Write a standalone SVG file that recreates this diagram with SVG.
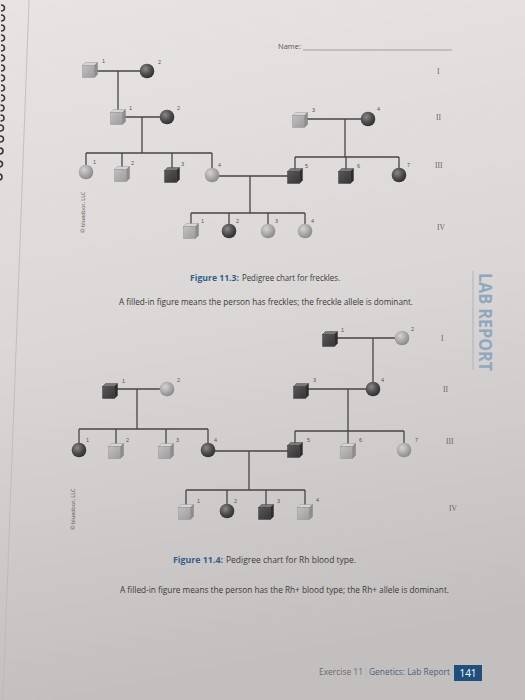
<svg xmlns="http://www.w3.org/2000/svg" xmlns:xlink="http://www.w3.org/1999/xlink" width="525" height="700" viewBox="0 0 525 700">
<defs>
<linearGradient id="page" x1="0" y1="0" x2="0.15" y2="1">
<stop offset="0" stop-color="#e7e4e3"/>
<stop offset="0.5" stop-color="#dbd7d6"/>
<stop offset="1" stop-color="#c4bfbf"/>
</linearGradient>
<radialGradient id="cL" cx="0.38" cy="0.35" r="0.7">
<stop offset="0" stop-color="#d6d4d3"/>
<stop offset="0.6" stop-color="#a6a4a4"/>
<stop offset="1" stop-color="#878585"/>
</radialGradient>
<radialGradient id="cD" cx="0.38" cy="0.35" r="0.7">
<stop offset="0" stop-color="#8a8888"/>
<stop offset="0.6" stop-color="#4a4848"/>
<stop offset="1" stop-color="#2f2e2e"/>
</radialGradient>
<linearGradient id="fL" x1="0" y1="0" x2="1" y2="1">
<stop offset="0" stop-color="#c2c0c0"/>
<stop offset="1" stop-color="#9c9a9a"/>
</linearGradient>
<linearGradient id="fD" x1="0" y1="0" x2="1" y2="1">
<stop offset="0" stop-color="#5a5858"/>
<stop offset="1" stop-color="#363535"/>
</linearGradient>
<g id="sqL">
<polygon points="-7.5,-4.5 -4.5,-7.5 7.5,-7.5 4.5,-4.5" fill="#d6d4d4" stroke="#8a8888" stroke-width="0.4"/>
<polygon points="4.5,-4.5 7.5,-7.5 7.5,4.5 4.5,7.5" fill="#8e8c8c" stroke="#7a7878" stroke-width="0.4"/>
<rect x="-7.5" y="-4.5" width="12" height="12" fill="url(#fL)" stroke="#8a8888" stroke-width="0.4"/>
</g>
<g id="sqD">
<polygon points="-7.5,-4.5 -4.5,-7.5 7.5,-7.5 4.5,-4.5" fill="#7a7878" stroke="#3a3939" stroke-width="0.4"/>
<polygon points="4.5,-4.5 7.5,-7.5 7.5,4.5 4.5,7.5" fill="#2e2d2d" stroke="#2a2929" stroke-width="0.4"/>
<rect x="-7.5" y="-4.5" width="12" height="12" fill="url(#fD)" stroke="#333" stroke-width="0.4"/>
</g>
<circle id="ciL" cx="0" cy="0" r="7.3" fill="url(#cL)"/>
<circle id="ciD" cx="0" cy="0" r="7.3" fill="url(#cD)"/>
<path id="ring" d="M0,-3 a3.5,3 0 0 1 0,6"/>
</defs>
<style>
.ln{fill:none;stroke:#474545;stroke-width:1.3}
.n{font-family:"Liberation Sans",Arial,sans-serif;font-size:5.5px;fill:#555}
.g{font-family:"Liberation Serif","Times New Roman",serif;font-size:7.5px;fill:#666}
.cap{font-family:"Open Sans","Noto Sans",sans-serif;font-size:9.5px;fill:#3a3a3a}
.fig{font-weight:bold;fill:#2f5f8a}
.copy{font-family:"Open Sans","Noto Sans",sans-serif;font-size:5.5px;fill:#555}
.foot{font-family:"Open Sans","Noto Sans",sans-serif;font-size:8.5px;fill:#6a6a6a}
.spir{fill:none;stroke:#3a3838;stroke-width:1.6}
</style>
<rect x="0" y="0" width="525" height="700" fill="url(#page)"/>
<line x1="29" y1="0" x2="3" y2="700" stroke="#bdb8b8" stroke-width="0.8"/>
<g id="binding" class="spir">
<use href="#ring" x="1" y="8"/><use href="#ring" x="1" y="18"/><use href="#ring" x="1" y="28"/><use href="#ring" x="1" y="38"/><use href="#ring" x="1" y="48"/><use href="#ring" x="1" y="58"/><use href="#ring" x="1" y="68"/><use href="#ring" x="1" y="78"/><use href="#ring" x="1" y="88"/><use href="#ring" x="1" y="98"/><use href="#ring" x="0.5" y="108"/><use href="#ring" x="0.5" y="118"/><use href="#ring" x="0" y="128"/><use href="#ring" x="0" y="139"/><use href="#ring" x="-0.5" y="151"/><use href="#ring" x="-1" y="164"/><use href="#ring" x="-1.5" y="177"/>
</g>

<text x="278" y="49" class="foot" style="font-size:7.5px;fill:#555">Name:</text>
<line x1="303" y1="50" x2="452" y2="50" stroke="#777" stroke-width="0.6"/>

<g id="tab">
<line x1="473" y1="271" x2="473" y2="370" stroke="#9fb0bf" stroke-width="0.8"/>
<text transform="translate(479,273) rotate(90)" x="0" y="0" textLength="98" lengthAdjust="spacingAndGlyphs" style="font-family:'Open Sans','Noto Sans',sans-serif;font-weight:bold;font-size:17px;fill:#8ea8bf">LAB REPORT</text>
</g>

<!-- Figure 11.3 connectors -->
<g id="connectors-fig1" class="ln">
<path d="M90,71 H147 M118,71 V117"/>
<path d="M118,117 H167 M142,117 V153"/>
<path d="M86,153 H212 M86,153 V172 M122,153 V174 M172,153 V175 M212,153 V175"/>
<path d="M300,119 H368 M345,119 V157"/>
<path d="M295,157 H399 M295,157 V176 M346,157 V176 M399,157 V175"/>
<path d="M212,176 H295 M250,176 V213"/>
<path d="M191,213 H305 M191,213 V231 M229,213 V231 M268,213 V231 M305,213 V231"/>
</g>

<g id="f1-I-1"><use href="#sqL" x="90" y="70"/><text x="102" y="63" class="n">1</text></g>
<g id="f1-I-2"><use href="#ciD" x="147" y="71"/><text x="158" y="64" class="n">2</text></g>
<g id="f1-II-1"><use href="#sqL" x="118" y="117"/><text x="129" y="110" class="n">1</text></g>
<g id="f1-II-2"><use href="#ciD" x="167" y="117"/><text x="177" y="110" class="n">2</text></g>
<g id="f1-II-3"><use href="#sqL" x="300" y="120"/><text x="312" y="112" class="n">3</text></g>
<g id="f1-II-4"><use href="#ciD" x="368" y="119"/><text x="377" y="111" class="n">4</text></g>
<g id="f1-III-1"><use href="#ciL" x="86" y="172"/><text x="93" y="164" class="n">1</text></g>
<g id="f1-III-2"><use href="#sqL" x="122" y="174"/><text x="131" y="165" class="n">2</text></g>
<g id="f1-III-3"><use href="#sqD" x="172" y="175"/><text x="181" y="166" class="n">3</text></g>
<g id="f1-III-4"><use href="#ciL" x="212" y="175"/><text x="218" y="167" class="n">4</text></g>
<g id="f1-III-5"><use href="#sqD" x="295" y="176"/><text x="305" y="168" class="n">5</text></g>
<g id="f1-III-6"><use href="#sqD" x="346" y="176"/><text x="357" y="168" class="n">6</text></g>
<g id="f1-III-7"><use href="#ciD" x="399" y="175"/><text x="407" y="167" class="n">7</text></g>
<g id="f1-IV-1"><use href="#sqL" x="191" y="231"/><text x="201" y="223" class="n">1</text></g>
<g id="f1-IV-2"><use href="#ciD" x="229" y="231"/><text x="236" y="223" class="n">2</text></g>
<g id="f1-IV-3"><use href="#ciL" x="268" y="231"/><text x="275" y="223" class="n">3</text></g>
<g id="f1-IV-4"><use href="#ciL" x="305" y="231"/><text x="311" y="223" class="n">4</text></g>

<g id="gen-fig1">
<text x="437" y="74" class="g">I</text>
<text x="436" y="120" class="g">II</text>
<text x="435" y="168" class="g">III</text>
<text x="437" y="230" class="g">IV</text>
</g>
<text transform="translate(85,233) rotate(-90)" class="copy">© bluedoor, LLC</text>

<text x="190" y="281" class="cap fig" textLength="49" lengthAdjust="spacingAndGlyphs">Figure 11.3:</text>
<text x="242" y="281" class="cap" textLength="98" lengthAdjust="spacingAndGlyphs">Pedigree chart for freckles.</text>
<text x="119" y="305" class="cap" textLength="294" lengthAdjust="spacingAndGlyphs">A filled-in figure means the person has freckles; the freckle allele is dominant.</text>

<!-- Figure 11.4 connectors -->
<g id="connectors-fig2" class="ln">
<path d="M330,338 H402 M373,338 V389"/>
<path d="M110,389 H167 M137,389 V429"/>
<path d="M79,429 H208 M79,429 V450 M116,429 V451 M166,429 V451 M208,429 V450"/>
<path d="M301,389 H373 M348,389 V431"/>
<path d="M295,431 H404 M295,431 V450 M348,431 V451 M404,431 V450"/>
<path d="M208,451 H295 M249,451 V490"/>
<path d="M186,490 H305 M186,490 V512 M227,490 V511 M266,490 V512 M305,490 V512"/>
</g>

<g id="f2-I-1"><use href="#sqD" x="330" y="339"/><text x="341" y="332" class="n">1</text></g>
<g id="f2-I-2"><use href="#ciL" x="402" y="338"/><text x="411" y="331" class="n">2</text></g>
<g id="f2-II-1"><use href="#sqD" x="110" y="391"/><text x="122" y="383" class="n">1</text></g>
<g id="f2-II-2"><use href="#ciL" x="167" y="389"/><text x="177" y="382" class="n">2</text></g>
<g id="f2-II-3"><use href="#sqD" x="301" y="391"/><text x="313" y="382" class="n">3</text></g>
<g id="f2-II-4"><use href="#ciD" x="373" y="389"/><text x="381" y="382" class="n">4</text></g>
<g id="f2-III-1"><use href="#ciD" x="79" y="450"/><text x="86" y="442" class="n">1</text></g>
<g id="f2-III-2"><use href="#sqL" x="116" y="451"/><text x="126" y="442" class="n">2</text></g>
<g id="f2-III-3"><use href="#sqL" x="166" y="451"/><text x="176" y="442" class="n">3</text></g>
<g id="f2-III-4"><use href="#ciD" x="208" y="450"/><text x="214" y="442" class="n">4</text></g>
<g id="f2-III-5"><use href="#sqD" x="295" y="450"/><text x="307" y="442" class="n">5</text></g>
<g id="f2-III-6"><use href="#sqL" x="348" y="451"/><text x="359" y="442" class="n">6</text></g>
<g id="f2-III-7"><use href="#ciL" x="404" y="450"/><text x="415" y="442" class="n">7</text></g>
<g id="f2-IV-1"><use href="#sqL" x="186" y="512"/><text x="197" y="503" class="n">1</text></g>
<g id="f2-IV-2"><use href="#ciD" x="227" y="511"/><text x="234" y="503" class="n">2</text></g>
<g id="f2-IV-3"><use href="#sqD" x="266" y="512"/><text x="277" y="503" class="n">3</text></g>
<g id="f2-IV-4"><use href="#sqL" x="305" y="512"/><text x="316" y="502" class="n">4</text></g>

<g id="gen-fig2">
<text x="441" y="341" class="g">I</text>
<text x="443" y="392" class="g">II</text>
<text x="446" y="444" class="g">III</text>
<text x="449" y="511" class="g">IV</text>
</g>
<text transform="translate(75,530) rotate(-90)" class="copy">© bluedoor, LLC</text>

<text x="173" y="563" class="cap fig" textLength="50" lengthAdjust="spacingAndGlyphs">Figure 11.4:</text>
<text x="226" y="563" class="cap" textLength="130" lengthAdjust="spacingAndGlyphs">Pedigree chart for Rh blood type.</text>
<text x="120" y="593" class="cap" textLength="329" lengthAdjust="spacingAndGlyphs">A filled-in figure means the person has the Rh+ blood type; the Rh+ allele is dominant.</text>

<g id="footer">
<text x="319" y="675" class="foot" textLength="44" lengthAdjust="spacingAndGlyphs">Exercise 11</text>
<line x1="366" y1="667" x2="366" y2="677" stroke="#9fb6c8" stroke-width="0.8"/>
<text x="369" y="675" class="foot" style="fill:#4a6178" textLength="81" lengthAdjust="spacingAndGlyphs">Genetics: Lab Report</text>
<rect x="454" y="665" width="28" height="16" fill="#1f4f7c"/>
<text x="468" y="676.5" text-anchor="middle" style="font-family:'Open Sans','Noto Sans',sans-serif;font-size:10px;fill:#ffffff">141</text>
</g>
</svg>
